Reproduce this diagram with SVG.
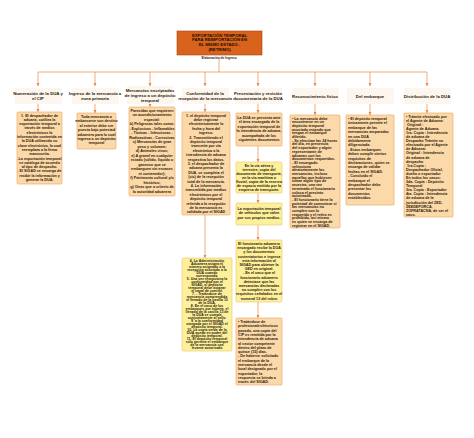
<svg xmlns="http://www.w3.org/2000/svg" width="474" height="438" viewBox="0 0 474 438">
<defs>
<style>
.t{font-family:"Liberation Sans",Arial,sans-serif;font-size:3.7px;font-weight:bold;fill:#2b1a08}
.h{font-family:"Liberation Sans",Arial,sans-serif;font-size:4.3px;font-weight:bold;fill:#2b1a08;text-anchor:middle}
.c{text-anchor:middle}
.box{fill:#fcd9a9;stroke:#eaa25e;stroke-width:0.6}
.ybox{fill:#fdf09c;stroke:#ecc86a;stroke-width:0.6}
.hbox{fill:#fdf6ee}
.ln{stroke:#e58a45;stroke-width:0.7;fill:none}
</style>
<marker id="ar" markerWidth="4" markerHeight="4" refX="3" refY="2" orient="auto" markerUnits="userSpaceOnUse">
<path d="M0,0.5 L3,2 L0,3.5 Z" fill="#e58a45"/>
</marker>
</defs>
<rect width="474" height="438" fill="#ffffff"/>

<g id="connectors">
<path class="ln" d="M219,58 V72"/>
<path class="ln" d="M38,72 H427"/>
<path class="ln" marker-end="url(#ar)" d="M38,72 V86"/>
<path class="ln" marker-end="url(#ar)" d="M95,72 V86"/>
<path class="ln" marker-end="url(#ar)" d="M150,72 V86"/>
<path class="ln" marker-end="url(#ar)" d="M205,72 V86"/>
<path class="ln" marker-end="url(#ar)" d="M258,72 V86"/>
<path class="ln" marker-end="url(#ar)" d="M315,72 V86"/>
<path class="ln" marker-end="url(#ar)" d="M370,72 V86"/>
<path class="ln" marker-end="url(#ar)" d="M427,72 V86"/>
<path class="ln" marker-end="url(#ar)" d="M38,104 V112"/>
<path class="ln" marker-end="url(#ar)" d="M95,104 V113"/>
<path class="ln" marker-end="url(#ar)" d="M150,104 V107"/>
<path class="ln" marker-end="url(#ar)" d="M205,104 V112"/>
<path class="ln" marker-end="url(#ar)" d="M205,215 V258"/>
<path class="ln" marker-end="url(#ar)" d="M258,104 V113"/>
<path class="ln" marker-end="url(#ar)" d="M258,146 V162"/>
<path class="ln" marker-end="url(#ar)" d="M258,193 V203"/>
<path class="ln" marker-end="url(#ar)" d="M258,225 V240"/>
<path class="ln" marker-end="url(#ar)" d="M258,302 V318"/>
<path class="ln" marker-end="url(#ar)" d="M315,104 V115"/>
<path class="ln" marker-end="url(#ar)" d="M370,104 V115"/>
<path class="ln" marker-end="url(#ar)" d="M427,104 V113"/>
</g>

<g id="title">
<rect x="177" y="31" width="85" height="24" fill="#d9621c" stroke="#a8440f" stroke-width="0.6"/>
<text class="h" x="219.5" y="36.5" style="fill:#1a0d00;font-size:4.2px"><tspan x="219.5">EXPORTACIÓN TEMPORAL</tspan><tspan x="219.5" dy="4.8">PARA  REIMPORTACIÓN EN</tspan><tspan x="219.5" dy="4.8">EL MISMO  ESTADO -</tspan><tspan x="219.5" dy="4.8">(RETRIMO)</tspan></text>
<text class="h" x="219" y="58.5" style="font-size:3.2px">Elaboración de Ingreso</text>
</g>

<g id="h1"><rect class="hbox" x="15" y="88" width="47" height="16"/><text class="h" x="38" y="95"><tspan x="38">Numeración de la DUA y</tspan><tspan x="38" dy="5">el CIP</tspan></text></g>
<g id="h2"><rect class="hbox" x="72" y="88" width="47" height="16"/><text class="h" x="95" y="95"><tspan x="95">Ingreso de la mercancía a</tspan><tspan x="95" dy="5">zona primaria</tspan></text></g>
<g id="h3"><rect class="hbox" x="127" y="86" width="47" height="18"/><text class="h" x="150" y="92"><tspan x="150">Mercancías encriptadas</tspan><tspan x="150" dy="5">de ingreso a un depósito</tspan><tspan x="150" dy="5">temporal</tspan></text></g>
<g id="h4"><rect class="hbox" x="182" y="88" width="47" height="16"/><text class="h" x="205" y="95"><tspan x="205">Conformidad de la</tspan><tspan x="205" dy="5">recepción de la mercancía</tspan></text></g>
<g id="h5"><rect class="hbox" x="235" y="88" width="47" height="16"/><text class="h" x="258" y="95"><tspan x="258">Presentación y revisión</tspan><tspan x="258" dy="5">documentaria de la DUA</tspan></text></g>
<g id="h6"><rect class="hbox" x="292" y="88" width="47" height="16"/><text class="h" x="315" y="97.5">Reconocimiento físico</text></g>
<g id="h7"><rect class="hbox" x="347" y="88" width="47" height="16"/><text class="h" x="370" y="97.5">Del embarque</text></g>
<g id="h8"><rect class="hbox" x="404" y="88" width="47" height="16"/><text class="h" x="427" y="97.5">Distribución de la DUA</text></g>

<g id="b1"><rect class="box" x="17" y="112" width="45" height="72" rx="1"/>
<text class="t c" y="116.5"><tspan x="39.5">1. El despachador de</tspan><tspan x="39.5" dy="4.3">aduana, cotiliza la</tspan><tspan x="39.5" dy="4.3">exportación temporal a</tspan><tspan x="39.5" dy="4.3">través de medios</tspan><tspan x="39.5" dy="4.3">electrónicos la</tspan><tspan x="39.5" dy="4.3">información contenida en</tspan><tspan x="39.5" dy="4.3">la DUA utilizando su</tspan><tspan x="39.5" dy="4.3">clave electrónica, la cual</tspan><tspan x="39.5" dy="4.3">reemplaza a la firma</tspan><tspan x="39.5" dy="4.3">manuscrita.</tspan><tspan x="39.5" dy="4.3">.La exportación temporal</tspan><tspan x="39.5" dy="4.3">se cataloga de acuerdo</tspan><tspan x="39.5" dy="4.3">al tipo de despacho.</tspan><tspan x="39.5" dy="4.3">. El SIGAD se encarga de</tspan><tspan x="39.5" dy="4.3">recibir la información y</tspan><tspan x="39.5" dy="4.3">generar la DUA.</tspan></text></g>

<g id="b2"><rect class="box" x="77" y="113" width="39" height="36" rx="1"/>
<text class="t c" y="118"><tspan x="96.5">Toda mercancía a</tspan><tspan x="96.5" dy="4.4">embarcarse con destino</tspan><tspan x="96.5" dy="4.4">al exterior debe ser</tspan><tspan x="96.5" dy="4.4">puesta bajo potestad</tspan><tspan x="96.5" dy="4.4">aduanera para lo cual</tspan><tspan x="96.5" dy="4.4">ingresa a un depósito</tspan><tspan x="96.5" dy="4.4">temporal</tspan></text></g>

<g id="b3"><rect class="box" x="129" y="107" width="46" height="89" rx="1"/>
<text class="t c" y="111.5"><tspan x="152">Parecidas que requieren</tspan><tspan x="152" dy="4.5">un acondicionamiento</tspan><tspan x="152" dy="4.5">especial:</tspan><tspan x="152" dy="4.5">b) Peligrosas tales como:</tspan><tspan x="152" dy="4.5">- Explosivos - Inflamables</tspan><tspan x="152" dy="4.5">- Tóxicas - Infecciosas -</tspan><tspan x="152" dy="4.5">Radioactivas - Corrosivas</tspan><tspan x="152" dy="4.5">c) Mercancías de gran</tspan><tspan x="152" dy="4.5">peso y volumen;</tspan><tspan x="152" dy="4.5">d) Animales vivos;</tspan><tspan x="152" dy="4.5">e) A granel en cualquier</tspan><tspan x="152" dy="4.5">estado (sólido, líquido o</tspan><tspan x="152" dy="4.5">gaseoso que se</tspan><tspan x="152" dy="4.5">embarguen sin envases</tspan><tspan x="152" dy="4.5">ni contenedor);</tspan><tspan x="152" dy="4.5">f) Patrimonio cultural y/o</tspan><tspan x="152" dy="4.5">histórico;</tspan><tspan x="152" dy="4.5">g) Otras que a criterio de</tspan><tspan x="152" dy="4.5">la autoridad aduanera</tspan></text></g>

<g id="b4"><rect class="box" x="182" y="112" width="48" height="103" rx="1"/>
<text class="t c" y="116.5"><tspan x="206">1. el depósito temporal</tspan><tspan x="206" dy="4.4">debe registrar</tspan><tspan x="206" dy="4.4">electrónicamente la</tspan><tspan x="206" dy="4.4">fecha y hora del</tspan><tspan x="206" dy="4.4">ingreso.</tspan><tspan x="206" dy="4.4">2. Transmitiendo el</tspan><tspan x="206" dy="4.4">depósito temporal</tspan><tspan x="206" dy="4.4">transmite por vía</tspan><tspan x="206" dy="4.4">electrónica a la</tspan><tspan x="206" dy="4.4">intendencia de aduana</tspan><tspan x="206" dy="4.4">respectiva los datos.</tspan><tspan x="206" dy="4.4">3. el despachador de</tspan><tspan x="206" dy="4.4">aduana presenta la</tspan><tspan x="206" dy="4.4">DUA, se completa el</tspan><tspan x="206" dy="4.4">(sic) de la recepción</tspan><tspan x="206" dy="4.4">total de la mercancía.</tspan><tspan x="206" dy="4.4">4. La información</tspan><tspan x="206" dy="4.4">transmitida por medios</tspan><tspan x="206" dy="4.4">electrónicos por el</tspan><tspan x="206" dy="4.4">depósito temporal</tspan><tspan x="206" dy="4.4">referida a la recepción</tspan><tspan x="206" dy="4.4">de la  mercancía es</tspan><tspan x="206" dy="4.4">validada por el SIGAD</tspan></text></g>

<g id="b4b"><rect class="ybox" x="182" y="258" width="50" height="93" rx="1"/>
<text class="t c" y="262" style="font-size:3.5px"><tspan x="207">4. La Administración</tspan><tspan x="207" dy="3.0">Aduanera asigna el</tspan><tspan x="207" dy="3.0">número asignado a la</tspan><tspan x="207" dy="3.0">recepción asociado a la</tspan><tspan x="207" dy="3.0">DUA cuando</tspan><tspan x="207" dy="3.0">corresponda.</tspan><tspan x="207" dy="3.0">5. Una vez recepciona la</tspan><tspan x="207" dy="3.0">conformidad por el</tspan><tspan x="207" dy="3.0">SIGAD, el depósito</tspan><tspan x="207" dy="3.0">temporal debe asignar</tspan><tspan x="207" dy="3.0">el canal de control.</tspan><tspan x="207" dy="3.0">7. - Tratándose de</tspan><tspan x="207" dy="3.0">mercancía comprendida</tspan><tspan x="207" dy="3.0">el llenado de la casilla 13</tspan><tspan x="207" dy="3.0">de la DUA.</tspan><tspan x="207" dy="3.0">8. En el caso de los</tspan><tspan x="207" dy="3.0">embarques por tubería, el</tspan><tspan x="207" dy="3.0">llenado de la casilla 13 de</tspan><tspan x="207" dy="3.0">la DUA se cumple</tspan><tspan x="207" dy="3.0">conjuntamente al sello.</tspan><tspan x="207" dy="3.0">9. a la conformidad</tspan><tspan x="207" dy="3.0">otorgada por el SIGAD el</tspan><tspan x="207" dy="3.0">depósito temporal.</tspan><tspan x="207" dy="3.0">10. La copia verde de la</tspan><tspan x="207" dy="3.0">DUA queda en poder del</tspan><tspan x="207" dy="3.0">depósito temporal.</tspan><tspan x="207" dy="3.0">11.  El depósito temporal</tspan><tspan x="207" dy="3.0">sólo permite el embarque</tspan><tspan x="207" dy="3.0">de la mercancía con</tspan><tspan x="207" dy="3.0">levante autorizado</tspan></text></g>

<g id="b5a"><rect class="box" x="236" y="113" width="46" height="33" rx="1"/>
<text class="t c" y="119"><tspan x="259">La DUA se presenta ante</tspan><tspan x="259" dy="4.4">el área encargada de la</tspan><tspan x="259" dy="4.4">exportación temporal de</tspan><tspan x="259" dy="4.4">la intendencia de aduana,</tspan><tspan x="259" dy="4.4">acompañada de los</tspan><tspan x="259" dy="4.4">siguientes documentos</tspan></text></g>

<g id="b5b"><rect class="ybox" x="236" y="162" width="46" height="31" rx="1"/>
<text class="t c" y="167"><tspan x="259">En la vía aérea y</tspan><tspan x="259" dy="4">terrestre, copia del</tspan><tspan x="259" dy="4">documento de transporte,</tspan><tspan x="259" dy="4">en la vía marítima o</tspan><tspan x="259" dy="4">fluvial, copia de la reserva</tspan><tspan x="259" dy="4">de espacio emitido por la</tspan><tspan x="259" dy="4">empresa de transporte.</tspan></text></g>

<g id="b5c"><rect class="ybox" x="236" y="203" width="46" height="22" rx="1"/>
<text class="t c" y="210"><tspan x="259">La exportación temporal</tspan><tspan x="259" dy="4.4">de vehículos que salen</tspan><tspan x="259" dy="4.4">por sus propios medios.</tspan></text></g>

<g id="b5d"><rect class="ybox" x="236" y="240" width="46" height="62" rx="1"/>
<text class="t c" y="245"><tspan x="259">El funcionario aduanero</tspan><tspan x="259" dy="4.2">encargado recibe la DUA</tspan><tspan x="259" dy="4.2">y los documentos</tspan><tspan x="259" dy="4.2">sustentatorios e ingresa</tspan><tspan x="259" dy="4.2">esta información al</tspan><tspan x="259" dy="4.2">SIGAD para obtener la</tspan><tspan x="259" dy="4.2">GED en original.</tspan><tspan x="259" dy="4.2">- En el caso que el</tspan><tspan x="259" dy="4.2">funcionario aduanero</tspan><tspan x="259" dy="4.2">detectase que las</tspan><tspan x="259" dy="4.2">mercancías declaradas</tspan><tspan x="259" dy="4.2">no cumplen con los</tspan><tspan x="259" dy="4.2">requisitos señalados en el</tspan><tspan x="259" dy="4.2">numeral 12 del rubro</tspan></text></g>

<g id="b5e"><rect class="box" x="236" y="318" width="46" height="67" rx="1"/>
<text class="t" y="323"><tspan x="238">• Tratándose de</tspan><tspan x="238" dy="4.3">profesionales/técnicos</tspan><tspan x="238" dy="4.3">pasado, una copia del</tspan><tspan x="238" dy="4.3">CIP es remitida por la</tspan><tspan x="238" dy="4.3">intendencia de aduana</tspan><tspan x="238" dy="4.3">al sector competente</tspan><tspan x="238" dy="4.3">dentro del plazo de</tspan><tspan x="238" dy="4.3">quince (15) días.</tspan><tspan x="238" dy="4.3">- De haberse solicitado</tspan><tspan x="238" dy="4.3">el embarque de la</tspan><tspan x="238" dy="4.3">mercancía desde el</tspan><tspan x="238" dy="4.3">local designado por el</tspan><tspan x="238" dy="4.3">exportador, la</tspan><tspan x="238" dy="4.3">respuesta se brinda a</tspan><tspan x="238" dy="4.3">través del SIGAD.</tspan></text></g>

<g id="b6"><rect class="box" x="290" y="115" width="50" height="113" rx="1"/>
<text class="t" y="119.5"><tspan x="292">• La mercancía debe</tspan><tspan x="292" dy="3.7">encontrarse en un</tspan><tspan x="292" dy="3.7">depósito temporal</tspan><tspan x="292" dy="3.7">asociado estando que</tspan><tspan x="292" dy="3.7">tengan el embarque</tspan><tspan x="292" dy="3.7">diferido.</tspan><tspan x="292" dy="3.7">- Se efectúan las 24 horas</tspan><tspan x="292" dy="3.7">del día, en presencia</tspan><tspan x="292" dy="3.7">del exportador y algún</tspan><tspan x="292" dy="3.7">representante de</tspan><tspan x="292" dy="3.7">aduanas con los</tspan><tspan x="292" dy="3.7">documentos requeridos.</tspan><tspan x="292" dy="3.7">- El encargado</tspan><tspan x="292" dy="3.7">selecciona</tspan><tspan x="292" dy="3.7">aleatoriamente las</tspan><tspan x="292" dy="3.7">mercancías, incluso</tspan><tspan x="292" dy="3.7">aquellas que hubiesen</tspan><tspan x="292" dy="3.7">tomar algún tipo de</tspan><tspan x="292" dy="3.7">muestra, una vez</tspan><tspan x="292" dy="3.7">terminado el funcionario</tspan><tspan x="292" dy="3.7">coloca el precinto</tspan><tspan x="292" dy="3.7">autorizado.</tspan><tspan x="292" dy="3.7">- El funcionario tiene la</tspan><tspan x="292" dy="3.7">potestad de comunicar si</tspan><tspan x="292" dy="3.7">las mercancías no</tspan><tspan x="292" dy="3.7">cumplen con lo</tspan><tspan x="292" dy="3.7">requerido y el retiro es</tspan><tspan x="292" dy="3.7">prohibido, así mismo</tspan><tspan x="292" dy="3.7">es quien se encarga de</tspan><tspan x="292" dy="3.7">registrar en el SIGAD.</tspan></text></g>

<g id="b7"><rect class="box" x="346" y="115" width="48" height="90" rx="1"/>
<text class="t" y="120"><tspan x="348">• El depósito temporal</tspan><tspan x="348" dy="4.4">únicamente permite el</tspan><tspan x="348" dy="4.4">embarque de las</tspan><tspan x="348" dy="4.4">mercancías amparadas</tspan><tspan x="348" dy="4.4">en una DUA</tspan><tspan x="348" dy="4.4">debidamente</tspan><tspan x="348" dy="4.4">diligenciada.</tspan><tspan x="348" dy="4.4">- Estos embarques</tspan><tspan x="348" dy="4.4">deben cumplir ciertos</tspan><tspan x="348" dy="4.4">requisitos de</tspan><tspan x="348" dy="4.4">declaraciones, quien se</tspan><tspan x="348" dy="4.4">encarga de validar</tspan><tspan x="348" dy="4.4">fechas en el SIGAD.</tspan><tspan x="348" dy="4.4">- Concluido el</tspan><tspan x="348" dy="4.4">embarque el</tspan><tspan x="348" dy="4.4">despachador debe</tspan><tspan x="348" dy="4.4">presentar los</tspan><tspan x="348" dy="4.4">documentos</tspan><tspan x="348" dy="4.4">establecidos.</tspan></text></g>

<g id="b8"><rect class="box" x="404" y="113" width="49" height="104" rx="1"/>
<text class="t" y="117.5"><tspan x="406">• Trámite efectuado por</tspan><tspan x="406" dy="4.1">el Agente de Aduana:</tspan><tspan x="406" dy="4.1"> Original :</tspan><tspan x="406" dy="4.1">Agente de Aduana.</tspan><tspan x="406" dy="4.1">1ra. Copia : Intendencia</tspan><tspan x="406" dy="4.1">de aduana de</tspan><tspan x="406" dy="4.1">Despacho Trámite no</tspan><tspan x="406" dy="4.1">efectuado por el Agente</tspan><tspan x="406" dy="4.1">de Aduana:</tspan><tspan x="406" dy="4.1">Original : Intendencia</tspan><tspan x="406" dy="4.1">de aduana de</tspan><tspan x="406" dy="4.1">despacho</tspan><tspan x="406" dy="4.1"> 1ra.Copia :</tspan><tspan x="406" dy="4.1">Despachador Oficial,</tspan><tspan x="406" dy="4.1">dueño o exportador</tspan><tspan x="406" dy="4.1">En todos los casos:</tspan><tspan x="406" dy="4.1">2da. Copia : Depósito</tspan><tspan x="406" dy="4.1">Temporal</tspan><tspan x="406" dy="4.1">3ra. Copia : Exportador</tspan><tspan x="406" dy="4.1">4ta. Copia : Intendencia</tspan><tspan x="406" dy="4.1">de aduana de la</tspan><tspan x="406" dy="4.1">jurisdicción del ZED,</tspan><tspan x="406" dy="4.1">ZEEDEPORCA,</tspan><tspan x="406" dy="4.1">ZOFRATACNA, de ser el</tspan><tspan x="406" dy="4.1">caso.</tspan></text></g>
</svg>
